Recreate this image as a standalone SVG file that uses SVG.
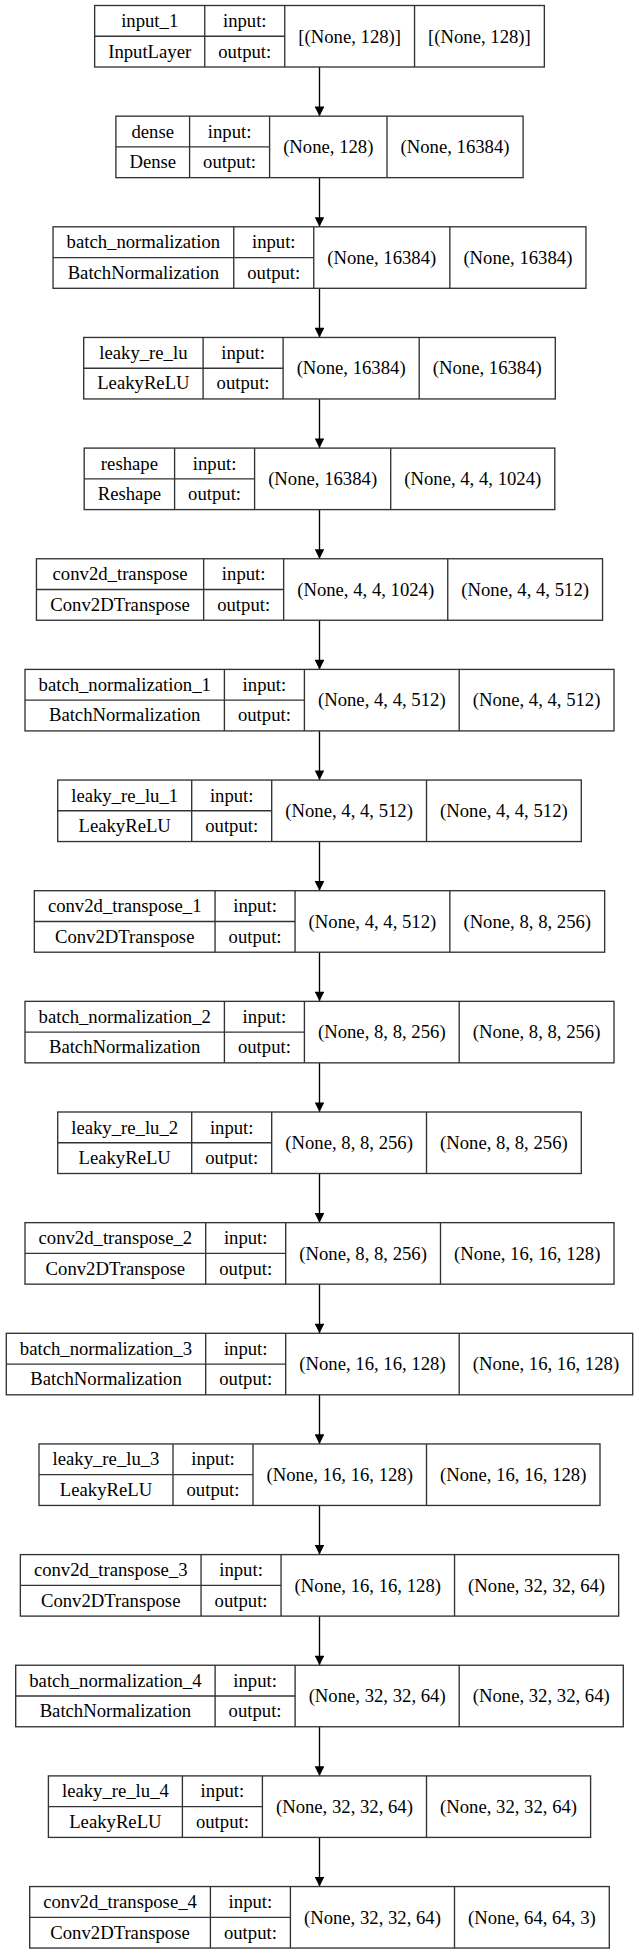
<svg xmlns="http://www.w3.org/2000/svg" width="639" height="1955" viewBox="0 0 639 1955">
<style>
.b{fill:#fff;stroke:#333;stroke-width:1.35}
.l{stroke:#333;stroke-width:1.35;fill:none}
text{font-family:"Liberation Serif","Times New Roman",serif;font-size:18.7px;fill:#000;text-anchor:middle}
.e{stroke:#000;stroke-width:1.35;fill:none}
</style>
<defs>
<marker id="ah" viewBox="0 0 10 10" refX="10" refY="5" markerWidth="13.4" markerHeight="9.6" orient="auto" markerUnits="userSpaceOnUse"><path d="M0,0 L10,5 L0,10 z" fill="#000"/></marker>
</defs>
<rect width="639" height="1955" fill="#fff"/>
<g id="connectors">
<line class="e" marker-end="url(#ah)" x1="319.5" y1="67" x2="319.5" y2="116.15"/>
<line class="e" marker-end="url(#ah)" x1="319.5" y1="177.65" x2="319.5" y2="226.8"/>
<line class="e" marker-end="url(#ah)" x1="319.5" y1="288.3" x2="319.5" y2="337.45"/>
<line class="e" marker-end="url(#ah)" x1="319.5" y1="398.95" x2="319.5" y2="448.1"/>
<line class="e" marker-end="url(#ah)" x1="319.5" y1="509.6" x2="319.5" y2="558.75"/>
<line class="e" marker-end="url(#ah)" x1="319.5" y1="620.25" x2="319.5" y2="669.4"/>
<line class="e" marker-end="url(#ah)" x1="319.5" y1="730.9" x2="319.5" y2="780.05"/>
<line class="e" marker-end="url(#ah)" x1="319.5" y1="841.55" x2="319.5" y2="890.7"/>
<line class="e" marker-end="url(#ah)" x1="319.5" y1="952.2" x2="319.5" y2="1001.35"/>
<line class="e" marker-end="url(#ah)" x1="319.5" y1="1062.85" x2="319.5" y2="1112"/>
<line class="e" marker-end="url(#ah)" x1="319.5" y1="1173.5" x2="319.5" y2="1222.65"/>
<line class="e" marker-end="url(#ah)" x1="319.5" y1="1284.15" x2="319.5" y2="1333.3"/>
<line class="e" marker-end="url(#ah)" x1="319.5" y1="1394.8" x2="319.5" y2="1443.95"/>
<line class="e" marker-end="url(#ah)" x1="319.5" y1="1505.45" x2="319.5" y2="1554.6"/>
<line class="e" marker-end="url(#ah)" x1="319.5" y1="1616.1" x2="319.5" y2="1665.25"/>
<line class="e" marker-end="url(#ah)" x1="319.5" y1="1726.75" x2="319.5" y2="1775.9"/>
<line class="e" marker-end="url(#ah)" x1="319.5" y1="1837.4" x2="319.5" y2="1886.55"/>
</g>

<g id="input_1" transform="translate(0,5.5)">
<rect class="b" x="94.65" y="0" width="449.7" height="61.5"/>
<path class="l" d="M204.75,0V61.5M284.75,0V61.5M414.55,0V61.5M94.65,30.75H284.75"/>
<text x="149.7" y="21.5">input_1</text><text x="149.7" y="52">InputLayer</text>
<text x="244.75" y="21.5">input:</text><text x="244.75" y="52">output:</text>
<text x="349.65" y="37">[(None, 128)]</text><text x="479.45" y="37">[(None, 128)]</text>
</g>

<g id="dense" transform="translate(0,116.15)">
<rect class="b" x="115.9" y="0" width="407.2" height="61.5"/>
<path class="l" d="M189.6,0V61.5M269.6,0V61.5M387,0V61.5M115.9,30.75H269.6"/>
<text x="152.75" y="21.5">dense</text><text x="152.75" y="52">Dense</text>
<text x="229.6" y="21.5">input:</text><text x="229.6" y="52">output:</text>
<text x="328.3" y="37">(None, 128)</text><text x="455.05" y="37">(None, 16384)</text>
</g>

<g id="batch_normalization" transform="translate(0,226.8)">
<rect class="b" x="53.05" y="0" width="532.9" height="61.5"/>
<path class="l" d="M233.75,0V61.5M313.75,0V61.5M449.85,0V61.5M53.05,30.75H313.75"/>
<text x="143.4" y="21.5">batch_normalization</text><text x="143.4" y="52">BatchNormalization</text>
<text x="273.75" y="21.5">input:</text><text x="273.75" y="52">output:</text>
<text x="381.8" y="37">(None, 16384)</text><text x="517.9" y="37">(None, 16384)</text>
</g>

<g id="leaky_re_lu" transform="translate(0,337.45)">
<rect class="b" x="83.7" y="0" width="471.6" height="61.5"/>
<path class="l" d="M203.1,0V61.5M283.1,0V61.5M419.2,0V61.5M83.7,30.75H283.1"/>
<text x="143.4" y="21.5">leaky_re_lu</text><text x="143.4" y="52">LeakyReLU</text>
<text x="243.1" y="21.5">input:</text><text x="243.1" y="52">output:</text>
<text x="351.15" y="37">(None, 16384)</text><text x="487.25" y="37">(None, 16384)</text>
</g>

<g id="reshape" transform="translate(0,448.1)">
<rect class="b" x="84.2" y="0" width="470.6" height="61.5"/>
<path class="l" d="M174.6,0V61.5M254.6,0V61.5M390.7,0V61.5M84.2,30.75H254.6"/>
<text x="129.4" y="21.5">reshape</text><text x="129.4" y="52">Reshape</text>
<text x="214.6" y="21.5">input:</text><text x="214.6" y="52">output:</text>
<text x="322.65" y="37">(None, 16384)</text><text x="472.75" y="37">(None, 4, 4, 1024)</text>
</g>

<g id="conv2d_transpose" transform="translate(0,558.75)">
<rect class="b" x="36.45" y="0" width="566.1" height="61.5"/>
<path class="l" d="M203.65,0V61.5M283.65,0V61.5M447.75,0V61.5M36.45,30.75H283.65"/>
<text x="120.05" y="21.5">conv2d_transpose</text><text x="120.05" y="52">Conv2DTranspose</text>
<text x="243.65" y="21.5">input:</text><text x="243.65" y="52">output:</text>
<text x="365.7" y="37">(None, 4, 4, 1024)</text><text x="525.15" y="37">(None, 4, 4, 512)</text>
</g>

<g id="batch_normalization_1" transform="translate(0,669.4)">
<rect class="b" x="25" y="0" width="589" height="61.5"/>
<path class="l" d="M224.4,0V61.5M304.4,0V61.5M459.2,0V61.5M25,30.75H304.4"/>
<text x="124.7" y="21.5">batch_normalization_1</text><text x="124.7" y="52">BatchNormalization</text>
<text x="264.4" y="21.5">input:</text><text x="264.4" y="52">output:</text>
<text x="381.8" y="37">(None, 4, 4, 512)</text><text x="536.6" y="37">(None, 4, 4, 512)</text>
</g>

<g id="leaky_re_lu_1" transform="translate(0,780.05)">
<rect class="b" x="57.7" y="0" width="523.6" height="61.5"/>
<path class="l" d="M191.7,0V61.5M271.7,0V61.5M426.5,0V61.5M57.7,30.75H271.7"/>
<text x="124.7" y="21.5">leaky_re_lu_1</text><text x="124.7" y="52">LeakyReLU</text>
<text x="231.7" y="21.5">input:</text><text x="231.7" y="52">output:</text>
<text x="349.1" y="37">(None, 4, 4, 512)</text><text x="503.9" y="37">(None, 4, 4, 512)</text>
</g>

<g id="conv2d_transpose_1" transform="translate(0,890.7)">
<rect class="b" x="34.35" y="0" width="570.3" height="61.5"/>
<path class="l" d="M215.05,0V61.5M295.05,0V61.5M449.85,0V61.5M34.35,30.75H295.05"/>
<text x="124.7" y="21.5">conv2d_transpose_1</text><text x="124.7" y="52">Conv2DTranspose</text>
<text x="255.05" y="21.5">input:</text><text x="255.05" y="52">output:</text>
<text x="372.45" y="37">(None, 4, 4, 512)</text><text x="527.25" y="37">(None, 8, 8, 256)</text>
</g>

<g id="batch_normalization_2" transform="translate(0,1001.35)">
<rect class="b" x="25" y="0" width="589" height="61.5"/>
<path class="l" d="M224.4,0V61.5M304.4,0V61.5M459.2,0V61.5M25,30.75H304.4"/>
<text x="124.7" y="21.5">batch_normalization_2</text><text x="124.7" y="52">BatchNormalization</text>
<text x="264.4" y="21.5">input:</text><text x="264.4" y="52">output:</text>
<text x="381.8" y="37">(None, 8, 8, 256)</text><text x="536.6" y="37">(None, 8, 8, 256)</text>
</g>

<g id="leaky_re_lu_2" transform="translate(0,1112)">
<rect class="b" x="57.7" y="0" width="523.6" height="61.5"/>
<path class="l" d="M191.7,0V61.5M271.7,0V61.5M426.5,0V61.5M57.7,30.75H271.7"/>
<text x="124.7" y="21.5">leaky_re_lu_2</text><text x="124.7" y="52">LeakyReLU</text>
<text x="231.7" y="21.5">input:</text><text x="231.7" y="52">output:</text>
<text x="349.1" y="37">(None, 8, 8, 256)</text><text x="503.9" y="37">(None, 8, 8, 256)</text>
</g>

<g id="conv2d_transpose_2" transform="translate(0,1222.65)">
<rect class="b" x="25" y="0" width="589" height="61.5"/>
<path class="l" d="M205.7,0V61.5M285.7,0V61.5M440.5,0V61.5M25,30.75H285.7"/>
<text x="115.35" y="21.5">conv2d_transpose_2</text><text x="115.35" y="52">Conv2DTranspose</text>
<text x="245.7" y="21.5">input:</text><text x="245.7" y="52">output:</text>
<text x="363.1" y="37">(None, 8, 8, 256)</text><text x="527.25" y="37">(None, 16, 16, 128)</text>
</g>

<g id="batch_normalization_3" transform="translate(0,1333.3)">
<rect class="b" x="6.3" y="0" width="626.4" height="61.5"/>
<path class="l" d="M205.7,0V61.5M285.7,0V61.5M459.2,0V61.5M6.3,30.75H285.7"/>
<text x="106" y="21.5">batch_normalization_3</text><text x="106" y="52">BatchNormalization</text>
<text x="245.7" y="21.5">input:</text><text x="245.7" y="52">output:</text>
<text x="372.45" y="37">(None, 16, 16, 128)</text><text x="545.95" y="37">(None, 16, 16, 128)</text>
</g>

<g id="leaky_re_lu_3" transform="translate(0,1443.95)">
<rect class="b" x="39" y="0" width="561" height="61.5"/>
<path class="l" d="M173,0V61.5M253,0V61.5M426.5,0V61.5M39,30.75H253"/>
<text x="106" y="21.5">leaky_re_lu_3</text><text x="106" y="52">LeakyReLU</text>
<text x="213" y="21.5">input:</text><text x="213" y="52">output:</text>
<text x="339.75" y="37">(None, 16, 16, 128)</text><text x="513.25" y="37">(None, 16, 16, 128)</text>
</g>

<g id="conv2d_transpose_3" transform="translate(0,1554.6)">
<rect class="b" x="20.35" y="0" width="598.3" height="61.5"/>
<path class="l" d="M201.05,0V61.5M281.05,0V61.5M454.55,0V61.5M20.35,30.75H281.05"/>
<text x="110.7" y="21.5">conv2d_transpose_3</text><text x="110.7" y="52">Conv2DTranspose</text>
<text x="241.05" y="21.5">input:</text><text x="241.05" y="52">output:</text>
<text x="367.8" y="37">(None, 16, 16, 128)</text><text x="536.6" y="37">(None, 32, 32, 64)</text>
</g>

<g id="batch_normalization_4" transform="translate(0,1665.25)">
<rect class="b" x="15.7" y="0" width="607.6" height="61.5"/>
<path class="l" d="M215.1,0V61.5M295.1,0V61.5M459.2,0V61.5M15.7,30.75H295.1"/>
<text x="115.4" y="21.5">batch_normalization_4</text><text x="115.4" y="52">BatchNormalization</text>
<text x="255.1" y="21.5">input:</text><text x="255.1" y="52">output:</text>
<text x="377.15" y="37">(None, 32, 32, 64)</text><text x="541.25" y="37">(None, 32, 32, 64)</text>
</g>

<g id="leaky_re_lu_4" transform="translate(0,1775.9)">
<rect class="b" x="48.4" y="0" width="542.2" height="61.5"/>
<path class="l" d="M182.4,0V61.5M262.4,0V61.5M426.5,0V61.5M48.4,30.75H262.4"/>
<text x="115.4" y="21.5">leaky_re_lu_4</text><text x="115.4" y="52">LeakyReLU</text>
<text x="222.4" y="21.5">input:</text><text x="222.4" y="52">output:</text>
<text x="344.45" y="37">(None, 32, 32, 64)</text><text x="508.55" y="37">(None, 32, 32, 64)</text>
</g>

<g id="conv2d_transpose_4" transform="translate(0,1886.55)">
<rect class="b" x="29.7" y="0" width="579.6" height="61.5"/>
<path class="l" d="M210.4,0V61.5M290.4,0V61.5M454.5,0V61.5M29.7,30.75H290.4"/>
<text x="120.05" y="21.5">conv2d_transpose_4</text><text x="120.05" y="52">Conv2DTranspose</text>
<text x="250.4" y="21.5">input:</text><text x="250.4" y="52">output:</text>
<text x="372.45" y="37">(None, 32, 32, 64)</text><text x="531.9" y="37">(None, 64, 64, 3)</text>
</g>
</svg>
